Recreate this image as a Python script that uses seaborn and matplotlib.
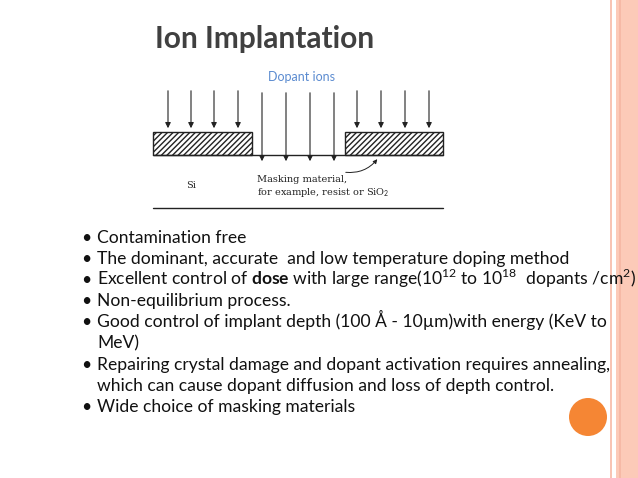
import matplotlib
matplotlib.use("Agg")
import matplotlib.pyplot as plt
import seaborn as sns
from matplotlib.patches import Rectangle, Circle, FancyArrowPatch

sns.set_theme(style="white")
plt.rcParams['font.family'] = ['Lato', 'DejaVu Sans']
plt.rcParams['mathtext.fontset'] = 'custom'
plt.rcParams['mathtext.rm'] = 'Lato'
plt.rcParams['mathtext.bf'] = 'Lato:bold'

title = "Ion Implantation"
ion_label = "Dopant ions"
mask_label = "Masking material,\nfor example, resist or SiO$_2$"
left_arrows = [168, 191, 214, 238]
mid_arrows = [262, 286, 310, 334]
right_arrows = [357, 381, 405, 429]
bullets = [
    "Contamination free",
    "The dominant, accurate  and low temperature doping method",
    r"Excellent control of $\mathbf{dose}$ with large range(10$^{12}$ to 10$^{18}$  dopants /cm$^{2}$)",
    "Non-equilibrium process.",
    "Good control of implant depth (100 Å - 10µm)with energy (KeV to",
    None,
    "Repairing crystal damage and dopant activation requires annealing,",
    None,
    "Wide choice of masking materials",
]
continuations = {5: "MeV)", 7: "which can cause dopant diffusion and loss of depth control."}

fig = plt.figure(figsize=(6.38, 4.78), dpi=100)
ax = fig.add_axes([0, 0, 1, 1])
ax.set_xlim(0, 638); ax.set_ylim(478, 0); ax.axis('off')

# right border
ax.add_patch(Rectangle((610, 0), 2, 478, color='#F8C4B4', lw=0))
ax.add_patch(Rectangle((616, 0), 22, 478, color='#FCCAB8', lw=0))
ax.add_patch(Rectangle((619, 0), 2, 478, color='#F6B9A6', lw=0))

ax.text(155, 39, title, fontsize=21.5, fontweight='bold', color='#404040', va='center')
ax.text(302, 77, ion_label, fontsize=9, color='#5B8BD0', ha='center', va='center')

# diagram
ax.add_patch(Rectangle((153, 132), 99, 23, fill=False, hatch='//////', lw=1, ec='#222'))
ax.add_patch(Rectangle((345, 132), 98, 23, fill=False, hatch='//////', lw=1, ec='#222'))
ax.plot([153, 443], [155, 155], color='#222', lw=1)
ax.plot([153, 443], [208, 208], color='#222', lw=1)
for xs, y0, y1 in [(left_arrows, 88, 131), (mid_arrows, 90, 164), (right_arrows, 88, 131)]:
    for x in xs:
        ax.annotate('', xy=(x, y1), xytext=(x, y0),
                    arrowprops=dict(arrowstyle='-|>', color='#222', lw=0.8, mutation_scale=8))
ax.text(186, 185, "Si", family='DejaVu Serif', fontsize=7, va='center', color='#222')
ax.text(257, 187, mask_label, family='DejaVu Serif', fontsize=7, va='center', color='#222', linespacing=1.2)
ax.add_patch(FancyArrowPatch((343, 172), (379, 157), connectionstyle='arc3,rad=0.3',
                             arrowstyle='-|>', mutation_scale=6, color='#222', lw=0.7))

# bullets
y = 243
for i, b in enumerate(bullets):
    yy = y + i * 21.1
    if b is None:
        ax.text(97, yy, continuations[i], fontsize=12.6, color='#111', va='baseline')
    else:
        ax.text(81, yy, "•", fontsize=12.6, color='#111', va='baseline')
        ax.text(97, yy, b, fontsize=12.6, color='#111', va='baseline')

ax.add_patch(Circle((588, 417), 19, color='#F58634', lw=0))
fig.savefig("out.png", dpi=100)
